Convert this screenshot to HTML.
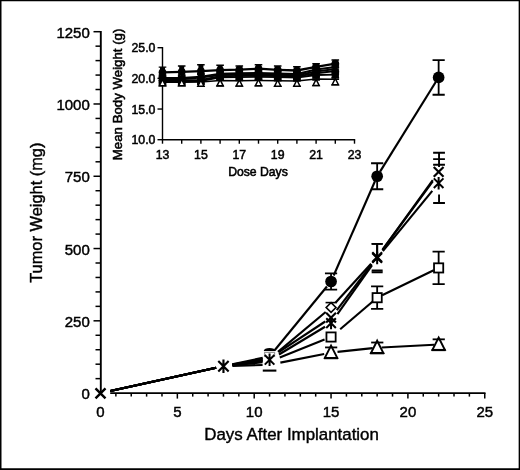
<!DOCTYPE html>
<html><head><meta charset="utf-8"><title>Tumor Weight</title>
<style>html,body{margin:0;padding:0;background:#fff}svg{display:block}</style></head>
<body>
<svg width="520" height="470" viewBox="0 0 520 470" font-family="Liberation Sans, Arial, sans-serif" fill="#000">
<rect x="0" y="0" width="520" height="470" fill="#fff"/>
<path d="M0 0 H520 V470 H0 Z M1.5 1.35 V468.15 H518.65 V1.35 Z" fill="#000" fill-rule="evenodd"/>
<g stroke="#000" stroke-width="1.9" fill="none" stroke-linecap="butt">
<path d="M100.8 30.950000000000045 V393.1 M110.2 393.1 H485.5"/>
</g>
<g stroke="#000" stroke-width="1.5" fill="none" stroke-linecap="butt">
<path d="M95.5 378.64 H100.5"/>
<path d="M95.5 364.19 H100.5"/>
<path d="M95.5 349.73 H100.5"/>
<path d="M95.5 335.28 H100.5"/>
<path d="M93.5 320.82 H100.5"/>
<path d="M95.5 306.36 H100.5"/>
<path d="M95.5 291.91 H100.5"/>
<path d="M95.5 277.45 H100.5"/>
<path d="M95.5 263.00 H100.5"/>
<path d="M93.5 248.54 H100.5"/>
<path d="M95.5 234.08 H100.5"/>
<path d="M95.5 219.63 H100.5"/>
<path d="M95.5 205.17 H100.5"/>
<path d="M95.5 190.72 H100.5"/>
<path d="M93.5 176.26 H100.5"/>
<path d="M95.5 161.80 H100.5"/>
<path d="M95.5 147.35 H100.5"/>
<path d="M95.5 132.89 H100.5"/>
<path d="M95.5 118.44 H100.5"/>
<path d="M93.5 103.98 H100.5"/>
<path d="M95.5 89.52 H100.5"/>
<path d="M95.5 75.07 H100.5"/>
<path d="M95.5 60.61 H100.5"/>
<path d="M95.5 46.16 H100.5"/>
<path d="M93.5 31.70 H100.5"/>
<path d="M115.87 393.1 V396.6"/>
<path d="M131.24 393.1 V396.6"/>
<path d="M146.61 393.1 V396.6"/>
<path d="M161.98 393.1 V396.6"/>
<path d="M177.35 393.1 V398.6"/>
<path d="M192.72 393.1 V396.6"/>
<path d="M208.09 393.1 V396.6"/>
<path d="M223.46 393.1 V396.6"/>
<path d="M238.83 393.1 V396.6"/>
<path d="M254.20 393.1 V398.6"/>
<path d="M269.57 393.1 V396.6"/>
<path d="M284.94 393.1 V396.6"/>
<path d="M300.31 393.1 V396.6"/>
<path d="M315.68 393.1 V396.6"/>
<path d="M331.05 393.1 V398.6"/>
<path d="M346.42 393.1 V396.6"/>
<path d="M361.79 393.1 V396.6"/>
<path d="M377.16 393.1 V396.6"/>
<path d="M392.53 393.1 V396.6"/>
<path d="M407.90 393.1 V398.6"/>
<path d="M423.27 393.1 V396.6"/>
<path d="M438.64 393.1 V396.6"/>
<path d="M454.01 393.1 V396.6"/>
<path d="M469.38 393.1 V396.6"/>
<path d="M484.75 393.1 V398.6"/>
</g>
<g font-size="15" stroke="#000" stroke-width="0.45">
<text x="89.8" y="399.30" text-anchor="end">0</text>
<text x="89.8" y="327.02" text-anchor="end">250</text>
<text x="89.8" y="254.74" text-anchor="end">500</text>
<text x="89.8" y="182.46" text-anchor="end">750</text>
<text x="89.8" y="110.18" text-anchor="end">1000</text>
<text x="89.8" y="37.90" text-anchor="end">1250</text>
<text x="100.50" y="417.4" text-anchor="middle">0</text>
<text x="177.35" y="417.4" text-anchor="middle">5</text>
<text x="254.20" y="417.4" text-anchor="middle">10</text>
<text x="331.05" y="417.4" text-anchor="middle">15</text>
<text x="407.90" y="417.4" text-anchor="middle">20</text>
<text x="484.75" y="417.4" text-anchor="middle">25</text>
</g>
<g stroke="#000" stroke-width="0.4">
<text x="291.6" y="440.3" text-anchor="middle" font-size="16.9">Days After Implantation</text>
<text transform="translate(41.8 212.7) rotate(-90)" text-anchor="middle" font-size="16.4">Tumor Weight (mg)</text>
</g>
<g stroke="#000" stroke-width="2.15" fill="none">
<path d="M110.27 390.96 L216.13 367.81"/>
<path d="M232.26 364.34 L262.72 357.84"/>
<path d="M274.65 350.20 L326.93 286.52"/>
<path d="M333.66 275.55 L374.95 181.30"/>
<path d="M380.06 171.59 L435.74 82.05"/>
<path d="M110.27 390.96 L216.13 367.81"/>
<path d="M232.32 364.66 L262.68 359.33"/>
<path d="M278.76 352.07 L325.20 321.49"/>
<path d="M336.81 310.09 L371.70 264.37"/>
<path d="M382.42 249.91 L432.79 180.04"/>
<path d="M110.27 390.96 L216.13 367.81"/>
<path d="M232.38 365.04 L262.63 361.05"/>
<path d="M278.99 354.47 L325.05 326.74"/>
<path d="M337.41 314.16 L371.96 265.42"/>
<path d="M382.87 251.13 L432.29 190.93"/>
<path d="M110.27 390.96 L216.13 367.81"/>
<path d="M232.35 364.82 L262.65 360.07"/>
<path d="M278.00 351.92 L325.68 312.01"/>
<path d="M335.44 302.73 L371.08 263.85"/>
<path d="M382.48 249.96 L432.73 181.43"/>
<path d="M110.27 390.96 L216.13 367.81"/>
<path d="M232.42 365.31 L262.60 362.28"/>
<path d="M279.78 357.50 L324.55 339.61"/>
<path d="M340.18 329.22 L372.98 301.26"/>
<path d="M382.11 295.29 L433.69 270.31"/>
<path d="M110.27 390.96 L216.13 367.81"/>
<path d="M232.46 365.93 L262.57 364.99"/>
<path d="M280.36 362.63 L324.18 353.98"/>
<path d="M337.51 351.93 L372.69 348.19"/>
<path d="M381.65 347.48 L434.15 344.76"/>
</g>
<path d="M331.05 273.40 V289.60 M324.95 273.40 H337.15 M324.95 289.60 H337.15" stroke="#000" stroke-width="1.8" fill="none"/>
<path d="M377.16 163.25 V189.27 M371.06 163.25 H383.26 M371.06 189.27 H383.26" stroke="#000" stroke-width="1.8" fill="none"/>
<path d="M438.64 60.03 V94.73 M432.54 60.03 H444.74 M432.54 94.73 H444.74" stroke="#000" stroke-width="1.8" fill="none"/>
<path d="M377.16 243.91 V257.21 M371.66 243.91 H382.66 M371.66 270.51 H382.66" stroke="#000" stroke-width="1.9" fill="none"/>
<path d="M377.16 243.91 V258.08 M371.66 243.91 H382.66 M371.66 272.25 H382.66" stroke="#000" stroke-width="1.9" fill="none"/>
<path d="M377.16 286.41 V308.97 M371.06 286.41 H383.26 M371.06 308.97 H383.26" stroke="#000" stroke-width="1.8" fill="none"/>
<path d="M438.64 251.72 V284.10 M432.54 251.72 H444.74 M432.54 284.10 H444.74" stroke="#000" stroke-width="1.8" fill="none"/>
<path d="M433.14 152.8 H444.94 M433.14 159.1 H444.94 M433.14 164.7 H444.94 M433.14 203 H444.94 M439.04 152.8 V167 M439.04 194.5 V203" stroke="#000" stroke-width="1.9" fill="none"/>
<path d="M325.55 302.6 H336.55" stroke="#000" stroke-width="1.6" fill="none"/>
<circle cx="331.05" cy="281.50" r="5.85" fill="#000" stroke="none"/>
<circle cx="377.16" cy="176.26" r="5.85" fill="#000" stroke="none"/>
<circle cx="438.64" cy="77.38" r="5.85" fill="#000" stroke="none"/>
<path d="M95.50 388.40 L105.50 398.40 M95.50 398.40 L105.50 388.40" fill="none" stroke="#000" stroke-width="2.4"/>
<path d="M326.15 312.74 L335.95 322.54 M326.15 322.54 L335.95 312.74" fill="none" stroke="#000" stroke-width="2.20"/>
<path d="M372.26 252.31 L382.06 262.11 M372.26 262.11 L382.06 252.31" fill="none" stroke="#000" stroke-width="2.20"/>
<path d="M433.74 167.02 L443.54 176.82 M433.74 176.82 L443.54 167.02" fill="none" stroke="#000" stroke-width="2.20"/>
<path d="M218.28 361.03 L228.64 371.40 M218.28 371.40 L228.64 361.03 M223.46 359.47 V372.95" fill="none" stroke="#000" stroke-width="2.16"/>
<path d="M326.25 318.33 L335.85 327.93 M326.25 327.93 L335.85 318.33 M331.05 316.89 V329.37" fill="none" stroke="#000" stroke-width="2.00"/>
<path d="M372.36 253.28 L381.96 262.88 M372.36 262.88 L381.96 253.28 M377.16 251.84 V264.32" fill="none" stroke="#000" stroke-width="2.00"/>
<path d="M433.84 178.40 L443.44 188.00 M433.84 188.00 L443.44 178.40 M438.64 176.96 V189.44" fill="none" stroke="#000" stroke-width="2.00"/>
<path d="M331.05 302.62 L335.95 307.52 L331.05 312.42 L326.15 307.52 Z" fill="#fff" stroke="#000" stroke-width="1.60"/>
<rect x="326.45" y="332.41" width="9.20" height="9.20" fill="#fff" stroke="#000" stroke-width="1.80"/>
<rect x="372.56" y="293.09" width="9.20" height="9.20" fill="#fff" stroke="#000" stroke-width="1.80"/>
<rect x="434.04" y="263.31" width="9.20" height="9.20" fill="#fff" stroke="#000" stroke-width="1.80"/>
<path d="M331.05 345.62 L337.25 357.92 L324.85 357.92 Z" fill="#fff" stroke="#000" stroke-width="1.90"/>
<path d="M377.16 340.71 L383.36 353.01 L370.96 353.01 Z" fill="#fff" stroke="#000" stroke-width="1.90"/>
<path d="M438.64 337.53 L444.84 349.83 L432.44 349.83 Z" fill="#fff" stroke="#000" stroke-width="1.90"/>
<path d="M325.05 347.42 H337.25" stroke="#000" stroke-width="1.8" fill="none"/>
<path d="M324.05 358.12 H338.05" stroke="#000" stroke-width="2.2" fill="none"/>
<path d="M371.16 342.51 H383.36" stroke="#000" stroke-width="1.8" fill="none"/>
<path d="M370.16 353.21 H384.16" stroke="#000" stroke-width="2.2" fill="none"/>
<path d="M432.64 339.33 H444.84" stroke="#000" stroke-width="1.8" fill="none"/>
<path d="M431.64 350.03 H445.64" stroke="#000" stroke-width="2.2" fill="none"/>
<path d="M263.77 350.9 A5.8 2.9 0 0 1 275.37 350.9 Z" fill="#000"/>
<path d="M264.57 357 V352.3 H274.57 V357" fill="none" stroke="#999" stroke-width="1.2"/>
<path d="M264.77 355.00 L274.37 364.60 M264.77 364.60 L274.37 355.00 M269.57 353.56 V366.04" fill="none" stroke="#000" stroke-width="2.00"/>
<path d="M262.77 370.6 H276.37" stroke="#000" stroke-width="2.1" fill="none"/>
<g stroke="#000" stroke-width="1.4" fill="none">
<path d="M162.5 47.00 V140.39999999999998 M161.8 139.7 H355.20"/>
<path d="M157.5 139.70 H162.5"/>
<path d="M157.5 109.03 H162.5"/>
<path d="M157.5 78.37 H162.5"/>
<path d="M157.5 47.70 H162.5"/>
<path d="M162.50 139.7 V143.7"/>
<path d="M181.70 139.7 V143.7"/>
<path d="M200.90 139.7 V143.7"/>
<path d="M220.10 139.7 V143.7"/>
<path d="M239.30 139.7 V143.7"/>
<path d="M258.50 139.7 V143.7"/>
<path d="M277.70 139.7 V143.7"/>
<path d="M296.90 139.7 V143.7"/>
<path d="M316.10 139.7 V143.7"/>
<path d="M335.30 139.7 V143.7"/>
<path d="M354.50 139.7 V143.7"/>
</g>
<g font-size="12.3" stroke="#000" stroke-width="0.5">
<text x="155.4" y="144.40" text-anchor="end">10.0</text>
<text x="155.4" y="113.73" text-anchor="end">15.0</text>
<text x="155.4" y="83.07" text-anchor="end">20.0</text>
<text x="155.4" y="52.40" text-anchor="end">25.0</text>
<text x="162.50" y="158.8" text-anchor="middle">13</text>
<text x="200.90" y="158.8" text-anchor="middle">15</text>
<text x="239.30" y="158.8" text-anchor="middle">17</text>
<text x="277.70" y="158.8" text-anchor="middle">19</text>
<text x="316.10" y="158.8" text-anchor="middle">21</text>
<text x="354.50" y="158.8" text-anchor="middle">23</text>
</g>
<text x="258" y="175.5" text-anchor="middle" font-size="12.2" stroke="#000" stroke-width="0.55">Dose Days</text>
<text transform="translate(122 94.4) rotate(-90)" text-anchor="middle" font-size="13.25" stroke="#000" stroke-width="0.55">Mean Body Weight (g)</text>
<g stroke="#000" fill="none">
<polyline points="162.50,72.30 181.70,71.80 200.90,71.20 220.10,70.20 239.30,69.70 258.50,68.70 277.70,69.80 296.90,70.50 316.10,66.80 335.30,63.70" stroke-width="2.3"/>
<path stroke-width="1.4" d="M162.50 67.10 V77.50 M158.70 67.10 H166.30 M158.70 77.50 H166.30"/>
<path stroke-width="5" d="M162.50 67.10 V72.30"/>
<path stroke-width="1.4" d="M181.70 66.00 V77.60 M177.90 66.00 H185.50 M177.90 77.60 H185.50"/>
<path stroke-width="5" d="M181.70 66.00 V71.80"/>
<path stroke-width="1.4" d="M200.90 64.80 V77.60 M197.10 64.80 H204.70 M197.10 77.60 H204.70"/>
<path stroke-width="5" d="M200.90 64.80 V71.20"/>
<path stroke-width="1.4" d="M220.10 65.20 V75.20 M216.30 65.20 H223.90 M216.30 75.20 H223.90"/>
<path stroke-width="5" d="M220.10 65.20 V70.20"/>
<path stroke-width="1.4" d="M239.30 66.00 V73.40 M235.50 66.00 H243.10 M235.50 73.40 H243.10"/>
<path stroke-width="5" d="M239.30 66.00 V69.70"/>
<path stroke-width="1.4" d="M258.50 64.80 V72.60 M254.70 64.80 H262.30 M254.70 72.60 H262.30"/>
<path stroke-width="5" d="M258.50 64.80 V68.70"/>
<path stroke-width="1.4" d="M277.70 66.00 V73.60 M273.90 66.00 H281.50 M273.90 73.60 H281.50"/>
<path stroke-width="5" d="M277.70 66.00 V69.80"/>
<path stroke-width="1.4" d="M296.90 66.80 V74.20 M293.10 66.80 H300.70 M293.10 74.20 H300.70"/>
<path stroke-width="5" d="M296.90 66.80 V70.50"/>
<path stroke-width="1.4" d="M316.10 63.70 V69.90 M312.30 63.70 H319.90 M312.30 69.90 H319.90"/>
<path stroke-width="5" d="M316.10 63.70 V66.80"/>
<path stroke-width="1.4" d="M335.30 60.00 V67.40 M331.50 60.00 H339.10 M331.50 67.40 H339.10"/>
<path stroke-width="5" d="M335.30 60.00 V63.70"/>
<polyline points="162.50,78.00 181.70,78.00 200.90,76.60 220.10,73.60 239.30,73.20 258.50,73.00 277.70,73.50 296.90,74.00 316.10,69.50 335.30,67.00" stroke-width="1.9"/>
<path stroke-width="1.4" d="M162.50 75.00 V81.00 M158.70 75.00 H166.30 M158.70 81.00 H166.30"/>
<path stroke-width="1.4" d="M181.70 75.00 V81.00 M177.90 75.00 H185.50 M177.90 81.00 H185.50"/>
<path stroke-width="1.4" d="M200.90 73.60 V79.60 M197.10 73.60 H204.70 M197.10 79.60 H204.70"/>
<path stroke-width="1.4" d="M220.10 70.60 V76.60 M216.30 70.60 H223.90 M216.30 76.60 H223.90"/>
<path stroke-width="1.4" d="M239.30 70.20 V76.20 M235.50 70.20 H243.10 M235.50 76.20 H243.10"/>
<path stroke-width="1.4" d="M258.50 70.00 V76.00 M254.70 70.00 H262.30 M254.70 76.00 H262.30"/>
<path stroke-width="1.4" d="M277.70 70.50 V76.50 M273.90 70.50 H281.50 M273.90 76.50 H281.50"/>
<path stroke-width="1.4" d="M296.90 71.00 V77.00 M293.10 71.00 H300.70 M293.10 77.00 H300.70"/>
<path stroke-width="1.4" d="M316.10 66.50 V72.50 M312.30 66.50 H319.90 M312.30 72.50 H319.90"/>
<path stroke-width="1.4" d="M335.30 64.00 V70.00 M331.50 64.00 H339.10 M331.50 70.00 H339.10"/>
<polyline points="162.50,79.20 181.70,79.20 200.90,77.60 220.10,75.00 239.30,74.60 258.50,74.40 277.70,74.80 296.90,75.20 316.10,71.50 335.30,69.00" stroke-width="1.9"/>
<path stroke-width="1.4" d="M162.50 76.20 V82.20 M158.70 76.20 H166.30 M158.70 82.20 H166.30"/>
<path stroke-width="1.4" d="M181.70 76.20 V82.20 M177.90 76.20 H185.50 M177.90 82.20 H185.50"/>
<path stroke-width="1.4" d="M200.90 74.60 V80.60 M197.10 74.60 H204.70 M197.10 80.60 H204.70"/>
<path stroke-width="1.4" d="M220.10 72.00 V78.00 M216.30 72.00 H223.90 M216.30 78.00 H223.90"/>
<path stroke-width="1.4" d="M239.30 71.60 V77.60 M235.50 71.60 H243.10 M235.50 77.60 H243.10"/>
<path stroke-width="1.4" d="M258.50 71.40 V77.40 M254.70 71.40 H262.30 M254.70 77.40 H262.30"/>
<path stroke-width="1.4" d="M277.70 71.80 V77.80 M273.90 71.80 H281.50 M273.90 77.80 H281.50"/>
<path stroke-width="1.4" d="M296.90 72.20 V78.20 M293.10 72.20 H300.70 M293.10 78.20 H300.70"/>
<path stroke-width="1.4" d="M316.10 68.50 V74.50 M312.30 68.50 H319.90 M312.30 74.50 H319.90"/>
<path stroke-width="1.4" d="M335.30 66.00 V72.00 M331.50 66.00 H339.10 M331.50 72.00 H339.10"/>
<polyline points="162.50,80.40 181.70,80.40 200.90,80.00 220.10,76.30 239.30,75.90 258.50,75.60 277.70,76.00 296.90,76.40 316.10,73.20 335.30,71.00" stroke-width="1.9"/>
<path stroke-width="1.4" d="M162.50 77.40 V83.40 M158.70 77.40 H166.30 M158.70 83.40 H166.30"/>
<path stroke-width="1.4" d="M181.70 77.40 V83.40 M177.90 77.40 H185.50 M177.90 83.40 H185.50"/>
<path stroke-width="1.4" d="M200.90 77.00 V83.00 M197.10 77.00 H204.70 M197.10 83.00 H204.70"/>
<path stroke-width="1.4" d="M220.10 73.30 V79.30 M216.30 73.30 H223.90 M216.30 79.30 H223.90"/>
<path stroke-width="1.4" d="M239.30 72.90 V78.90 M235.50 72.90 H243.10 M235.50 78.90 H243.10"/>
<path stroke-width="1.4" d="M258.50 72.60 V78.60 M254.70 72.60 H262.30 M254.70 78.60 H262.30"/>
<path stroke-width="1.4" d="M277.70 73.00 V79.00 M273.90 73.00 H281.50 M273.90 79.00 H281.50"/>
<path stroke-width="1.4" d="M296.90 73.40 V79.40 M293.10 73.40 H300.70 M293.10 79.40 H300.70"/>
<path stroke-width="1.4" d="M316.10 70.20 V76.20 M312.30 70.20 H319.90 M312.30 76.20 H319.90"/>
<path stroke-width="1.4" d="M335.30 68.00 V74.00 M331.50 68.00 H339.10 M331.50 74.00 H339.10"/>
<polyline points="162.50,81.60 181.70,81.60 200.90,81.20 220.10,77.30 239.30,77.10 258.50,76.80 277.70,77.20 296.90,77.50 316.10,75.00 335.30,74.70" stroke-width="1.8"/>
<path stroke-width="1.4" d="M162.50 78.60 V84.60 M158.70 78.60 H166.30 M158.70 84.60 H166.30"/>
<path stroke-width="1.4" d="M181.70 78.60 V84.60 M177.90 78.60 H185.50 M177.90 84.60 H185.50"/>
<path stroke-width="1.4" d="M200.90 78.20 V84.20 M197.10 78.20 H204.70 M197.10 84.20 H204.70"/>
<path stroke-width="1.4" d="M220.10 74.30 V80.30 M216.30 74.30 H223.90 M216.30 80.30 H223.90"/>
<path stroke-width="1.4" d="M239.30 74.10 V80.10 M235.50 74.10 H243.10 M235.50 80.10 H243.10"/>
<path stroke-width="1.4" d="M258.50 73.80 V79.80 M254.70 73.80 H262.30 M254.70 79.80 H262.30"/>
<path stroke-width="1.4" d="M277.70 74.20 V80.20 M273.90 74.20 H281.50 M273.90 80.20 H281.50"/>
<path stroke-width="1.4" d="M296.90 74.50 V80.50 M293.10 74.50 H300.70 M293.10 80.50 H300.70"/>
<path stroke-width="1.4" d="M316.10 72.00 V78.00 M312.30 72.00 H319.90 M312.30 78.00 H319.90"/>
<path stroke-width="1.4" d="M335.30 71.70 V77.70 M331.50 71.70 H339.10 M331.50 77.70 H339.10"/>
<polyline points="162.50,82.30 181.70,82.30 200.90,82.00 220.10,80.40 239.30,80.80 258.50,80.40 277.70,80.80 296.90,81.00 316.10,79.00 335.30,79.20" stroke-width="1.5"/>
<path stroke-width="1.4" d="M162.50 80.20 V85.80 M158.70 80.20 H166.30 M158.70 85.80 H166.30"/>
<path stroke-width="1.4" d="M181.70 80.20 V85.80 M177.90 80.20 H185.50 M177.90 85.80 H185.50"/>
<path stroke-width="1.4" d="M200.90 80.80 V86.40 M197.10 80.80 H204.70 M197.10 86.40 H204.70"/>
<path stroke-width="1.4" d="M220.10 80.40 V86.00 M216.30 80.40 H223.90 M216.30 86.00 H223.90"/>
<path stroke-width="1.4" d="M239.30 80.50 V86.10 M235.50 80.50 H243.10 M235.50 86.10 H243.10"/>
<path stroke-width="1.4" d="M258.50 80.20 V85.80 M254.70 80.20 H262.30 M254.70 85.80 H262.30"/>
<path stroke-width="1.4" d="M277.70 80.70 V86.30 M273.90 80.70 H281.50 M273.90 86.30 H281.50"/>
<path stroke-width="1.4" d="M296.90 80.70 V86.30 M293.10 80.70 H300.70 M293.10 86.30 H300.70"/>
<path stroke-width="1.4" d="M316.10 80.00 V85.60 M312.30 80.00 H319.90 M312.30 85.60 H319.90"/>
<path stroke-width="1.4" d="M335.30 79.20 V84.80 M331.50 79.20 H339.10 M331.50 84.80 H339.10"/>
</g>
<circle cx="162.50" cy="72.30" r="3.86" fill="#000" stroke="none"/>
<circle cx="181.70" cy="71.80" r="3.86" fill="#000" stroke="none"/>
<circle cx="200.90" cy="71.20" r="3.86" fill="#000" stroke="none"/>
<circle cx="220.10" cy="70.20" r="3.86" fill="#000" stroke="none"/>
<circle cx="239.30" cy="69.70" r="3.86" fill="#000" stroke="none"/>
<circle cx="258.50" cy="68.70" r="3.86" fill="#000" stroke="none"/>
<circle cx="277.70" cy="69.80" r="3.86" fill="#000" stroke="none"/>
<circle cx="296.90" cy="70.50" r="3.86" fill="#000" stroke="none"/>
<circle cx="316.10" cy="66.80" r="3.86" fill="#000" stroke="none"/>
<circle cx="335.30" cy="63.70" r="3.86" fill="#000" stroke="none"/>
<path d="M159.33 74.83 L165.67 81.17 M159.33 81.17 L165.67 74.83 M162.50 73.88 V82.12" fill="none" stroke="#000" stroke-width="1.32"/>
<path d="M178.53 74.83 L184.87 81.17 M178.53 81.17 L184.87 74.83 M181.70 73.88 V82.12" fill="none" stroke="#000" stroke-width="1.32"/>
<path d="M197.73 73.43 L204.07 79.77 M197.73 79.77 L204.07 73.43 M200.90 72.48 V80.72" fill="none" stroke="#000" stroke-width="1.32"/>
<path d="M216.93 70.43 L223.27 76.77 M216.93 76.77 L223.27 70.43 M220.10 69.48 V77.72" fill="none" stroke="#000" stroke-width="1.32"/>
<path d="M236.13 70.03 L242.47 76.37 M236.13 76.37 L242.47 70.03 M239.30 69.08 V77.32" fill="none" stroke="#000" stroke-width="1.32"/>
<path d="M255.33 69.83 L261.67 76.17 M255.33 76.17 L261.67 69.83 M258.50 68.88 V77.12" fill="none" stroke="#000" stroke-width="1.32"/>
<path d="M274.53 70.33 L280.87 76.67 M274.53 76.67 L280.87 70.33 M277.70 69.38 V77.62" fill="none" stroke="#000" stroke-width="1.32"/>
<path d="M293.73 70.83 L300.07 77.17 M293.73 77.17 L300.07 70.83 M296.90 69.88 V78.12" fill="none" stroke="#000" stroke-width="1.32"/>
<path d="M312.93 66.33 L319.27 72.67 M312.93 72.67 L319.27 66.33 M316.10 65.38 V73.62" fill="none" stroke="#000" stroke-width="1.32"/>
<path d="M332.13 63.83 L338.47 70.17 M332.13 70.17 L338.47 63.83 M335.30 62.88 V71.12" fill="none" stroke="#000" stroke-width="1.32"/>
<path d="M159.27 75.97 L165.73 82.43 M159.27 82.43 L165.73 75.97" fill="none" stroke="#000" stroke-width="1.45"/>
<path d="M178.47 75.97 L184.93 82.43 M178.47 82.43 L184.93 75.97" fill="none" stroke="#000" stroke-width="1.45"/>
<path d="M197.67 74.37 L204.13 80.83 M197.67 80.83 L204.13 74.37" fill="none" stroke="#000" stroke-width="1.45"/>
<path d="M216.87 71.77 L223.33 78.23 M216.87 78.23 L223.33 71.77" fill="none" stroke="#000" stroke-width="1.45"/>
<path d="M236.07 71.37 L242.53 77.83 M236.07 77.83 L242.53 71.37" fill="none" stroke="#000" stroke-width="1.45"/>
<path d="M255.27 71.17 L261.73 77.63 M255.27 77.63 L261.73 71.17" fill="none" stroke="#000" stroke-width="1.45"/>
<path d="M274.47 71.57 L280.93 78.03 M274.47 78.03 L280.93 71.57" fill="none" stroke="#000" stroke-width="1.45"/>
<path d="M293.67 71.97 L300.13 78.43 M293.67 78.43 L300.13 71.97" fill="none" stroke="#000" stroke-width="1.45"/>
<path d="M312.87 68.27 L319.33 74.73 M312.87 74.73 L319.33 68.27" fill="none" stroke="#000" stroke-width="1.45"/>
<path d="M332.07 65.77 L338.53 72.23 M332.07 72.23 L338.53 65.77" fill="none" stroke="#000" stroke-width="1.45"/>
<path d="M162.50 77.17 L165.73 80.40 L162.50 83.63 L159.27 80.40 Z" fill="#000" stroke="#000" stroke-width="1.06"/>
<path d="M181.70 77.17 L184.93 80.40 L181.70 83.63 L178.47 80.40 Z" fill="#000" stroke="#000" stroke-width="1.06"/>
<path d="M200.90 76.77 L204.13 80.00 L200.90 83.23 L197.67 80.00 Z" fill="#000" stroke="#000" stroke-width="1.06"/>
<path d="M220.10 73.07 L223.33 76.30 L220.10 79.53 L216.87 76.30 Z" fill="#000" stroke="#000" stroke-width="1.06"/>
<path d="M239.30 72.67 L242.53 75.90 L239.30 79.13 L236.07 75.90 Z" fill="#000" stroke="#000" stroke-width="1.06"/>
<path d="M258.50 72.37 L261.73 75.60 L258.50 78.83 L255.27 75.60 Z" fill="#000" stroke="#000" stroke-width="1.06"/>
<path d="M277.70 72.77 L280.93 76.00 L277.70 79.23 L274.47 76.00 Z" fill="#000" stroke="#000" stroke-width="1.06"/>
<path d="M296.90 73.17 L300.13 76.40 L296.90 79.63 L293.67 76.40 Z" fill="#000" stroke="#000" stroke-width="1.06"/>
<path d="M316.10 69.97 L319.33 73.20 L316.10 76.43 L312.87 73.20 Z" fill="#000" stroke="#000" stroke-width="1.06"/>
<path d="M335.30 67.77 L338.53 71.00 L335.30 74.23 L332.07 71.00 Z" fill="#000" stroke="#000" stroke-width="1.06"/>
<rect x="159.46" y="78.56" width="6.07" height="6.07" fill="#000" stroke="#000" stroke-width="1.19"/>
<rect x="178.66" y="78.56" width="6.07" height="6.07" fill="#000" stroke="#000" stroke-width="1.19"/>
<rect x="197.86" y="78.16" width="6.07" height="6.07" fill="#000" stroke="#000" stroke-width="1.19"/>
<rect x="217.06" y="74.26" width="6.07" height="6.07" fill="#000" stroke="#000" stroke-width="1.19"/>
<rect x="236.26" y="74.06" width="6.07" height="6.07" fill="#000" stroke="#000" stroke-width="1.19"/>
<rect x="255.46" y="73.76" width="6.07" height="6.07" fill="#000" stroke="#000" stroke-width="1.19"/>
<rect x="274.66" y="74.16" width="6.07" height="6.07" fill="#000" stroke="#000" stroke-width="1.19"/>
<rect x="293.86" y="74.46" width="6.07" height="6.07" fill="#000" stroke="#000" stroke-width="1.19"/>
<rect x="313.06" y="71.96" width="6.07" height="6.07" fill="#000" stroke="#000" stroke-width="1.19"/>
<rect x="332.26" y="71.66" width="6.07" height="6.07" fill="#000" stroke="#000" stroke-width="1.19"/>
<path d="M162.50 79.50 L165.60 85.65 L159.40 85.65 Z" fill="#fff" stroke="#000" stroke-width="1.5"/>
<path d="M181.70 79.50 L184.80 85.65 L178.60 85.65 Z" fill="#fff" stroke="#000" stroke-width="1.5"/>
<path d="M200.90 80.10 L204.00 86.25 L197.80 86.25 Z" fill="#fff" stroke="#000" stroke-width="1.5"/>
<path d="M220.10 79.70 L223.20 85.85 L217.00 85.85 Z" fill="#fff" stroke="#000" stroke-width="1.5"/>
<path d="M239.30 79.80 L242.40 85.95 L236.20 85.95 Z" fill="#fff" stroke="#000" stroke-width="1.5"/>
<path d="M258.50 79.50 L261.60 85.65 L255.40 85.65 Z" fill="#fff" stroke="#000" stroke-width="1.5"/>
<path d="M277.70 80.00 L280.80 86.15 L274.60 86.15 Z" fill="#fff" stroke="#000" stroke-width="1.5"/>
<path d="M296.90 80.00 L300.00 86.15 L293.80 86.15 Z" fill="#fff" stroke="#000" stroke-width="1.5"/>
<path d="M316.10 79.30 L319.20 85.45 L313.00 85.45 Z" fill="#fff" stroke="#000" stroke-width="1.5"/>
<path d="M335.30 78.50 L338.40 84.65 L332.20 84.65 Z" fill="#fff" stroke="#000" stroke-width="1.5"/>
</svg>
</body></html>
